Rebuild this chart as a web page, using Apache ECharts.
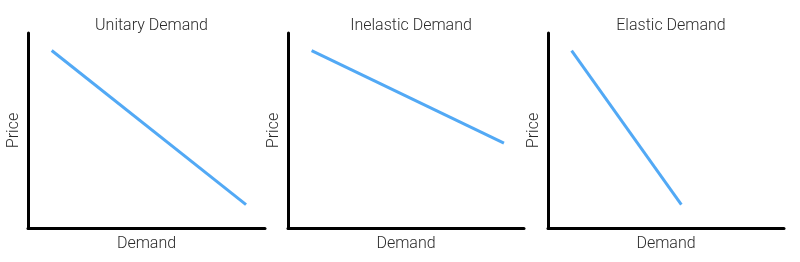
<!DOCTYPE html>
<html>
<head>
<meta charset="utf-8">
<script src="https://cdn.jsdelivr.net/npm/echarts@6/dist/echarts.min.js"></script>
<style>
  html, body { margin: 0; padding: 0; background: #fff; }
  #chart { width: 800px; height: 262px; }
</style>
</head>
<body>
<div id="chart"></div>
<script>
// Data
const panelTitles = ['Unitary Demand', 'Inelastic Demand', 'Elastic Demand'];
const xAxisName = 'Demand';
const yAxisName = 'Price';
const unitaryDemand = [[1.0, 9.1], [9.2, 1.2]];
const inelasticDemand = [[1.0, 9.1], [9.15, 4.35]];
const elasticDemand = [[1.0, 9.1], [5.65, 1.2]];
const seriesData = [unitaryDemand, inelasticDemand, elasticDemand];

// Layout (pixels)
const grids = [
  { left: 28, top: 33, width: 237, height: 195 },
  { left: 288, top: 33, width: 236, height: 195 },
  { left: 548, top: 33, width: 236, height: 195 }
];
const fontFamily = 'Roboto, "Liberation Sans", sans-serif';
const textColor = '#2a2a2a';
const lineColor = '#52a9f5';
const fontSize = 16;

const chart = echarts.init(document.getElementById('chart'), null, { renderer: 'canvas' });

const option = {
  backgroundColor: '#fff',
  animation: false,
  title: panelTitles.map((t, i) => ({
    text: t,
    left: grids[i].left + grids[i].width / 2,
    top: 13,
    textAlign: 'center',
    textStyle: { fontFamily, fontSize, fontWeight: 300, color: textColor }
  })),
  grid: grids.map(g => Object.assign({ outerBoundsMode: 'none', containLabel: false }, g)),
  xAxis: grids.map((g, i) => ({
    type: 'value', gridIndex: i, min: 0, max: 10,
    name: xAxisName, nameLocation: 'middle', nameGap: 8,
    nameTextStyle: { fontFamily, fontSize, fontWeight: 300, color: textColor, verticalAlign: 'top' },
    axisLine: { show: true, onZero: false, lineStyle: { color: '#000', width: 3 } },
    axisTick: { show: false }, axisLabel: { show: false }, splitLine: { show: false }
  })),
  yAxis: grids.map((g, i) => ({
    type: 'value', gridIndex: i, min: 0, max: 10,
    name: yAxisName, nameLocation: 'middle', nameGap: 6, nameRotate: 90,
    nameTextStyle: { fontFamily, fontSize, fontWeight: 300, color: textColor },
    axisLine: { show: true, onZero: false, lineStyle: { color: '#000', width: 3 } },
    axisTick: { show: false }, axisLabel: { show: false }, splitLine: { show: false }
  })),
  series: seriesData.map((d, i) => ({
    type: 'line', xAxisIndex: i, yAxisIndex: i, data: d,
    showSymbol: false, symbol: 'none', silent: true,
    lineStyle: { color: lineColor, width: 3, cap: 'butt' }
  }))
};
chart.setOption(option);
</script>
</body>
</html>
